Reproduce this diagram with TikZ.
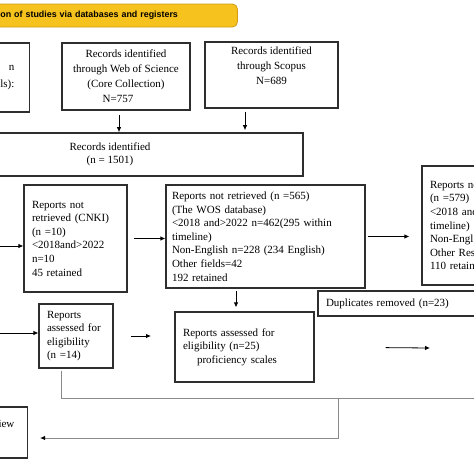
\documentclass[tikz,border=0pt]{standalone}
\usepackage{fontspec}
\setmainfont{Liberation Serif}
\newfontfamily\headfont{Liberation Sans}
\usetikzlibrary{arrows.meta,positioning}
\definecolor{bandfill}{HTML}{F6C21E}
\definecolor{banddraw}{HTML}{D29B12}
\definecolor{feedgray}{HTML}{8A8A8A}
\definecolor{boxline}{HTML}{2E2E2E}

\begin{document}
\begin{tikzpicture}[
  x=1pt, y=-1pt,
  box/.style={draw=boxline, line width=1.2pt, inner sep=0pt, font=\fontsize{11}{13.6}\selectfont},
  lbox/.style={box, align=left, inner xsep=8pt},
  cbox/.style={box, align=center, font=\fontsize{11}{15}\selectfont},
  band/.style={draw=banddraw, fill=bandfill, line width=0.8pt, rounded corners=5pt, align=left, font=\headfont\bfseries\fontsize{8.9}{10}\selectfont},
  arrow/.style={-{Latex[length=5pt,width=4.5pt]}, line width=0.8pt},
  feed/.style={feedgray, line width=1pt}
]
\useasboundingbox (0,0) rectangle (474,474);
\clip (0,0) rectangle (474,474);

\node[band, minimum width=247, minimum height=23, text width=227, inner xsep=10pt, anchor=west] (title) at (-10,15.5) {on of studies via databases and registers};

\node[box, anchor=east, align=right, text width=90, inner xsep=15pt, minimum height=69, font=\fontsize{11}{17}\selectfont] (other) at (30,77.5) {n\hspace*{10pt}\\ls):};
\node[cbox, minimum width=128, minimum height=67] (wos) at (126,76.5) {Records identified\\through Web of Science\\(Core Collection)\\N=757\hspace*{16pt}};
\node[cbox, minimum width=133, minimum height=66] (scopus) at (271.5,75) {Records identified\\through Scopus\\N=689\hspace*{25pt}\\\strut};

\node[box, line width=1.6pt, align=center, minimum width=386, minimum height=43, font=\fontsize{11}{13}\selectfont] (rec) at (110,154.5) {Records identified\\(n = 1501)};

\node[lbox, text width=87, minimum height=107] (cnki) at (75.5,238.5) {Reports not\\retrieved (CNKI)\\(n =10)\\<2018and>2022\\n=10\\45 retained};
\node[lbox, inner xsep=6pt, text width=187, minimum height=103] (wosnot) at (265.5,236.5) {Reports not retrieved (n =565)\\(The WOS database)\\<2018 and>2022 n=462(295 within\\timeline)\\Non-English n=228 (234 English)\\Other fields=42\\192 retained};
\node[lbox, text width=160, minimum height=119] (otherdb) at (510,225.5) {Reports no\\(n =579)\\<2018 and\\timeline)\\Non-Engl\\Other Res\\110 retain};

\node[lbox, text width=160, minimum height=25] (dupl) at (406,303.5) {Duplicates removed (n=23)};
\node[lbox, text width=58, minimum height=64] (elig14) at (76,336) {Reports\\assessed for\\eligibility\\(n =14)};
\node[lbox, text width=123, minimum height=70] (elig25) at (244.5,347) {Reports assessed for\\eligibility (n=25)\\\hspace*{14pt}proficiency scales};

\node[box, anchor=east, align=right, text width=60, inner xsep=13pt, minimum height=51] (review) at (28,432.5) {iew\\\strut};

\coordinate (cnkiin) at (-5,246);
\coordinate (eligin) at (-5,333);
\coordinate (eligout) at (151,336);
\coordinate (dupout) at (430,348);
\coordinate (feedright) at (480,398);
\coordinate (feedjoin) at (338,398);

\draw[arrow, shorten <=4pt] ([xshift=-7pt]wos.south) -- ([xshift=-7pt]wos.south |- rec.north);
\draw[arrow, shorten <=3pt, shorten >=2pt] ([xshift=-26.5pt]scopus.south) -- ([xshift=-26.5pt]scopus.south |- rec.north);
\draw[arrow] (cnkiin) -- (cnkiin -| cnki.west);
\draw[arrow, shorten <=6pt] (cnki.east) -- (cnki.east -| wosnot.west);
\draw[arrow, shorten <=2pt, shorten >=12pt] (wosnot.east) -- (wosnot.east -| otherdb.west);
\draw[arrow, shorten <=2pt, shorten >=4pt] ([xshift=-29.5pt]wosnot.south) -- ([xshift=-29.5pt]wosnot.south |- elig25.north);
\draw[arrow] (eligin) -- (eligin -| elig14.west);
\draw[arrow, shorten <=17pt] (elig14.east) -- (eligout);
\draw[arrow, shorten <=71pt] (elig25.east) -- (dupout);
\draw[feed, shorten <=2pt] ([xshift=-15pt]elig14.south) |- (feedright);
\draw[feed, -{Latex[length=5pt,width=4.5pt,color=black]}, shorten >=12pt] (feedjoin) |- ([yshift=-5.5pt]review.east);
\end{tikzpicture}
\end{document}
